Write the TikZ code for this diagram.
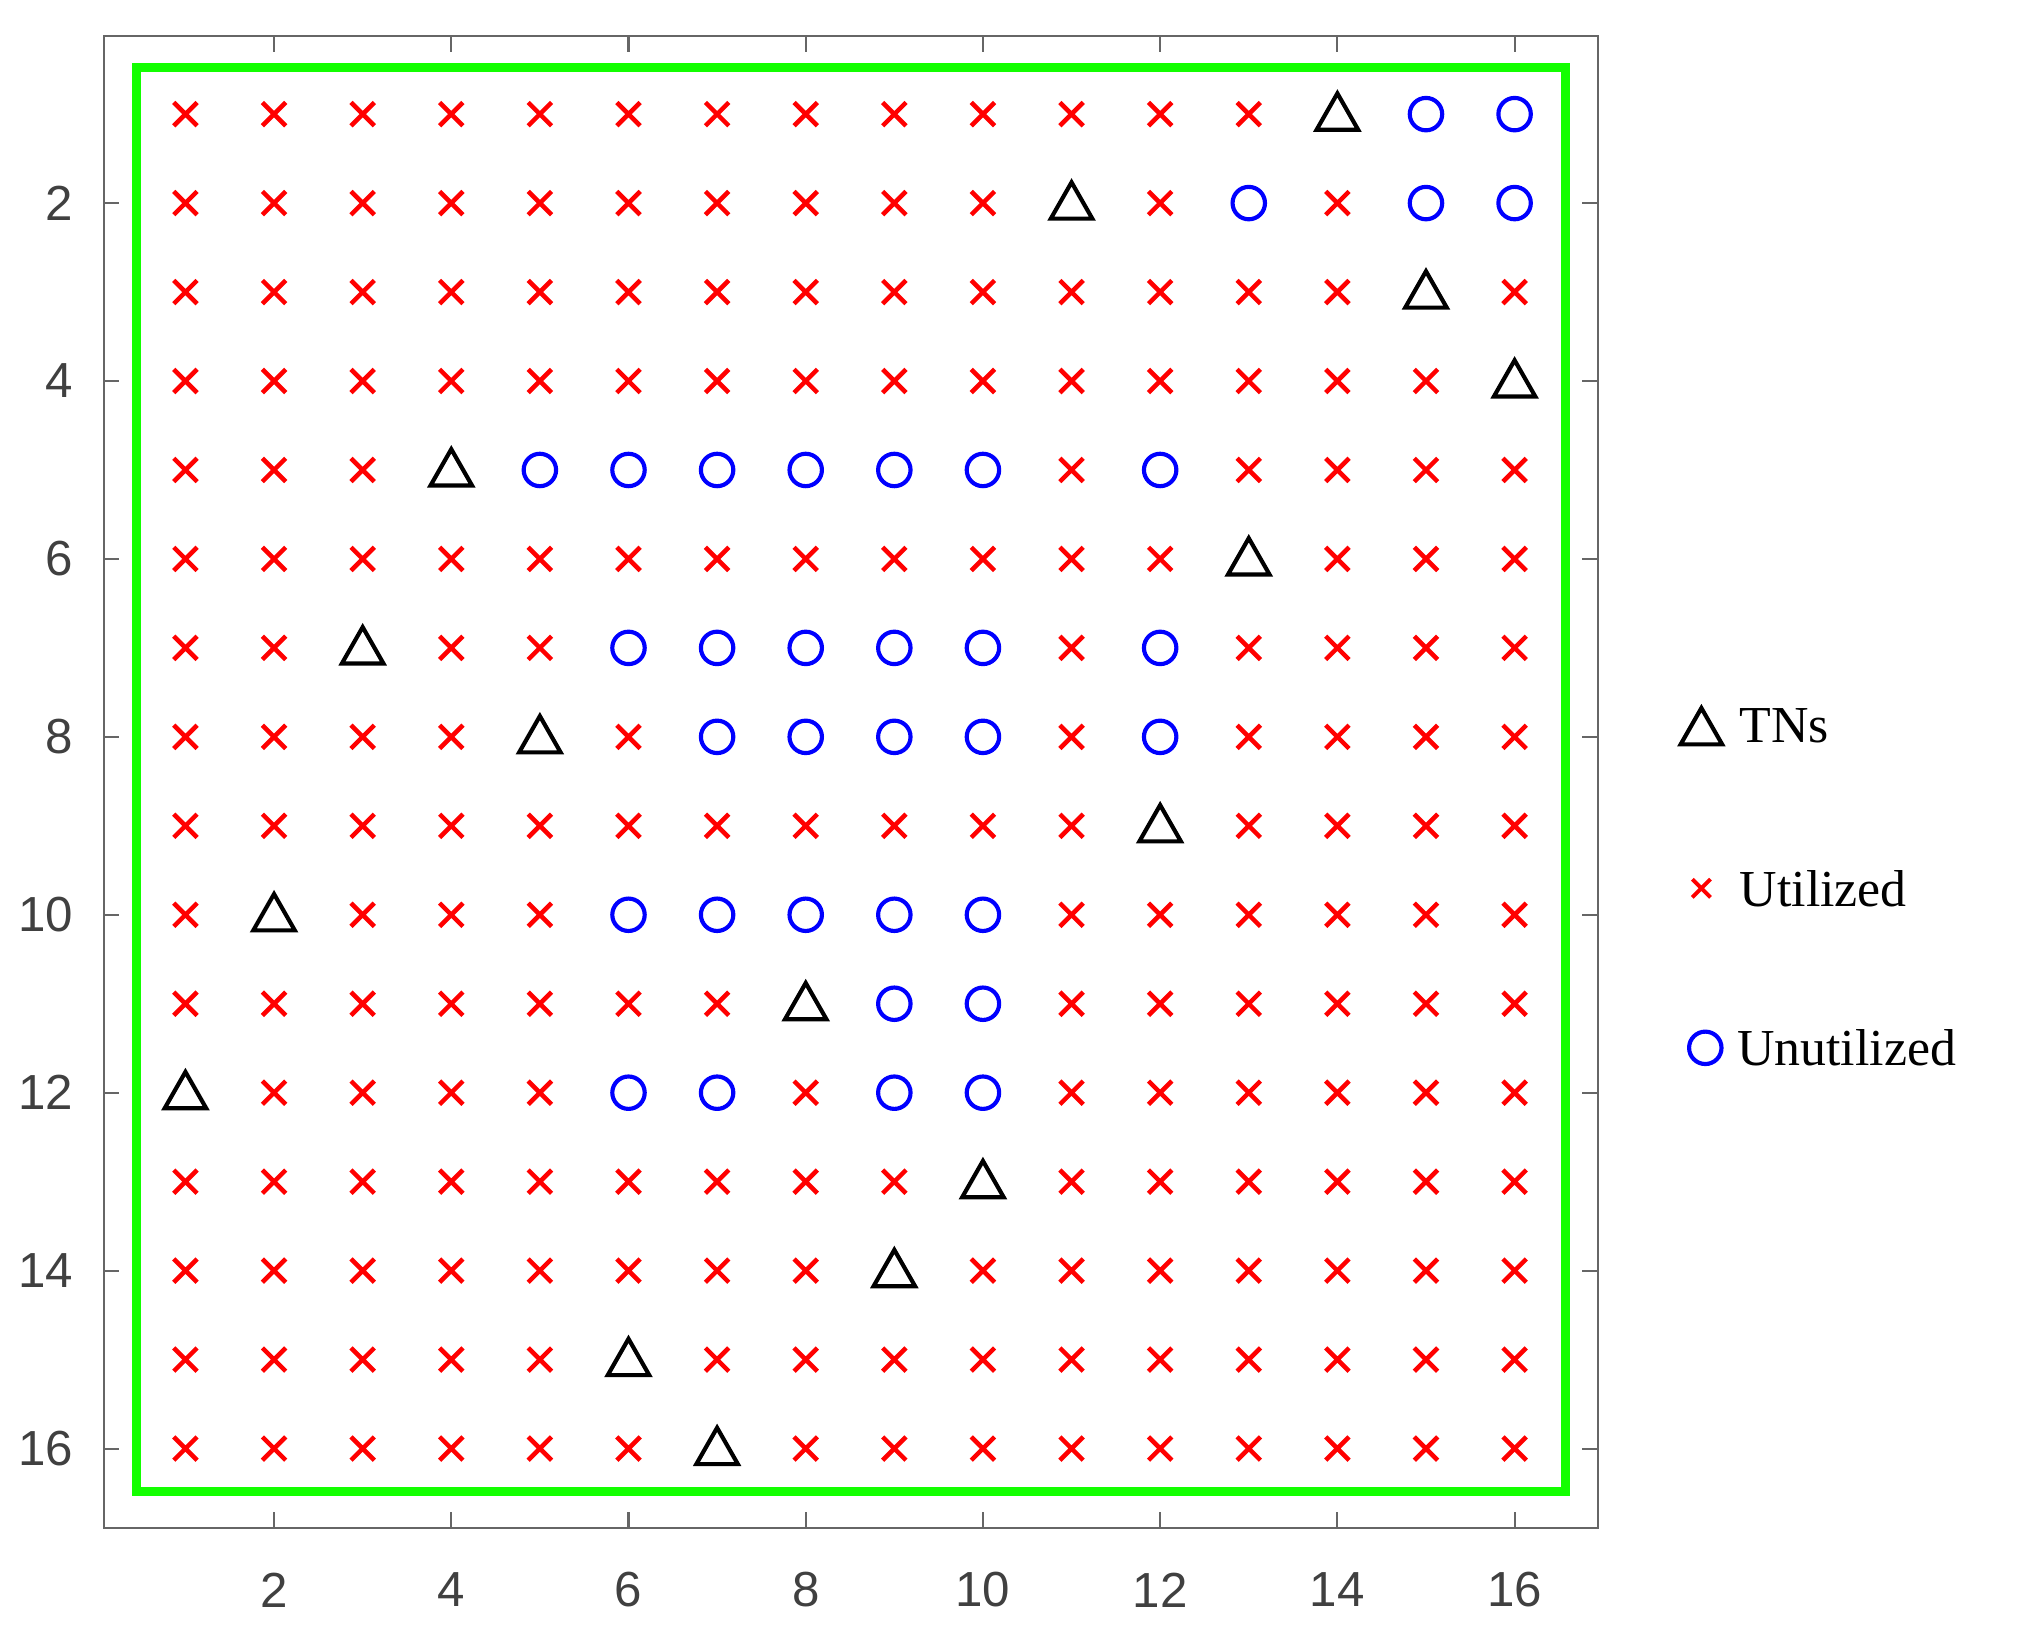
\documentclass[tikz,border=0pt]{standalone}
\usepackage{fontspec}
\setmainfont{Liberation Serif}
\newfontfamily\axfont{Liberation Sans}
\begin{document}
\begin{tikzpicture}[x=1pt,y=-1pt,
  crossmark/.style={draw=red,line width=3.5pt},
  circmark/.style={draw=blue,line width=3.2pt},
  trimark/.style={draw=black,line width=3.2pt,line join=miter},
  axline/.style={draw=gray!80!black,line width=1.6pt},
  ticklab/.style={font=\axfont\fontsize{38}{40}\selectfont,text=black!75}]
\useasboundingbox (0,0) rectangle (1560,1262);
\newcommand{\xmk}[2]{\draw[crossmark] ([shift={(-9,-9)}]#1,#2) -- ++(18,18) ([shift={(-9,9)}]#1,#2) -- ++(18,-18);}
\newcommand{\tmk}[2]{\draw[trimark] ([shift={(0,-16)}]#1,#2) -- ++(16,28) -- ++(-32,0) -- cycle;}
\newcommand{\cmk}[2]{\draw[circmark] (#1,#2) circle (12.5);}
% axes
\draw[axline] (80,28) rectangle (1232,1178);
\foreach \c [evaluate=\c as \xx using 143+(\c-1)*68.33] in {2,4,...,16}{
  \draw[axline] (\xx,1178) -- (\xx,1166) (\xx,28) -- (\xx,40);
  \node[ticklab] (xl\c) at (\xx,1226) {\c};}
\foreach \r [evaluate=\r as \yy using 88+(\r-1)*68.6] in {2,4,...,16}{
  \draw[axline] (80,\yy) -- (92,\yy) (1232,\yy) -- (1220,\yy);
  \node[ticklab,anchor=east] (yl\r) at (60,\yy) {\r};}
\draw[green!90!lime,line width=7pt] (105,52) rectangle (1207,1150);
% special cells
\foreach \r/\c in {1/14,2/11,3/15,4/16,5/4,6/13,7/3,8/5,9/12,10/2,11/8,12/1,13/10,14/9,15/6,16/7}{
  \expandafter\gdef\csname cl-\r-\c\endcsname{}
  \pgfmathsetmacro\xx{143+(\c-1)*68.33}\pgfmathsetmacro\yy{88+(\r-1)*68.6}
  \tmk{\xx}{\yy}}
\foreach \r/\c in {1/15,1/16,2/13,2/15,2/16,5/5,5/6,5/7,5/8,5/9,5/10,5/12,7/6,7/7,7/8,7/9,7/10,7/12,8/7,8/8,8/9,8/10,8/12,10/6,10/7,10/8,10/9,10/10,11/9,11/10,12/6,12/7,12/9,12/10}{
  \expandafter\gdef\csname cl-\r-\c\endcsname{}
  \pgfmathsetmacro\xx{143+(\c-1)*68.33}\pgfmathsetmacro\yy{88+(\r-1)*68.6}
  \cmk{\xx}{\yy}}
\foreach \r in {1,...,16}{\foreach \c in {1,...,16}{
  \ifcsname cl-\r-\c\endcsname\else
  \pgfmathsetmacro\xx{143+(\c-1)*68.33}\pgfmathsetmacro\yy{88+(\r-1)*68.6}
  \xmk{\xx}{\yy}\fi}}
% legend
\tmk{1312}{562}
\node[anchor=west,font=\fontsize{40}{42}\selectfont] (lt) at (1338,560) {TNs};
\draw[crossmark,line width=3pt] (1305,678) -- (1319,692) (1305,692) -- (1319,678);
\node[anchor=west,font=\fontsize{40}{42}\selectfont] (lu) at (1338,685) {Utilized};
\cmk{1315}{808}
\node[anchor=west,font=\fontsize{40}{42}\selectfont] (ln) at (1336,808) {Unutilized};
\end{tikzpicture}
\end{document}
